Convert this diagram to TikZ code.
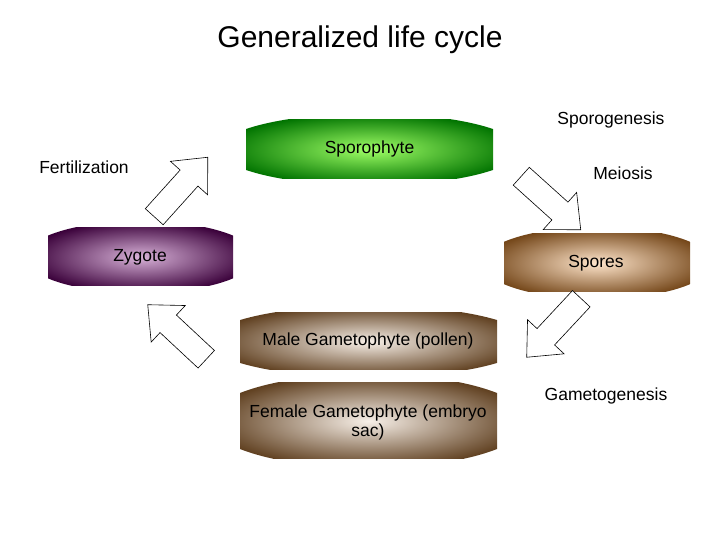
\documentclass[tikz,border=0pt]{standalone}
\usepackage{fontspec}
\setmainfont{Liberation Sans}
\begin{document}
\begin{tikzpicture}[x=1pt,y=1pt,
  lbl/.style={font=\fontsize{17.5}{19}\selectfont,align=center},
  barrow/.pic={\draw[fill=white,line width=0.6pt] (-40,-12) -- (12,-12) -- (12,-25) -- (40,0) -- (12,25) -- (12,12) -- (-40,12) -- cycle;}]
\useasboundingbox (0,0) rectangle (720,540);
\fill[white] (0,0) rectangle (720,540);
\node[font=\fontsize{30}{32}\selectfont] (title) at (360,500) {Generalized life cycle};
\begin{scope}
\clip (246,420) rectangle (493,361);
\shade[inner color=green!50!lime!60!white, outer color=green!45!black] (369.5,390.5) ellipse (150 and 36);
\end{scope}
\node[lbl] (spo) at (369.5,391) {Sporophyte};
\begin{scope}
\clip (48,312) rectangle (233,254);
\shade[inner color=violet!30!white, outer color=violet!45!black] (140.5,283) ellipse (115 and 36);
\end{scope}
\node[lbl] (zyg) at (140,283) {Zygote};
\begin{scope}
\clip (504,306) rectangle (690,248);
\shade[inner color=orange!20!white, outer color=brown!70!orange!55!black] (597,277) ellipse (115 and 36);
\end{scope}
\node[lbl] (spr) at (596,277) {Spores};
\begin{scope}
\clip (240,227) rectangle (497,170);
\shade[inner color=brown!12!white, outer color=brown!50!black] (368.5,198.5) ellipse (160 and 36);
\end{scope}
\node[lbl] (male) at (368,199) {Male Gametophyte (pollen)};
\begin{scope}
\clip (240,157) rectangle (497,81);
\shade[inner color=brown!12!white, outer color=brown!50!black] (368.5,119) ellipse (160 and 47);
\end{scope}
\node[lbl] (fem) at (368,118) {Female Gametophyte (embryo\\sac)};
\node[lbl] (l1) at (611,420) {Sporogenesis};
\node[lbl] (l2) at (84,373) {Fertilization};
\node[lbl] (l3) at (623,367) {Meiosis};
\node[lbl] (l4) at (606,144) {Gametogenesis};
\pic[rotate=48] (a1) at (181,353) {barrow};
\pic[rotate=-42] (a2) at (551,337) {barrow};
\pic[rotate=-133] (a3) at (554,212) {barrow};
\pic[rotate=137] (a4) at (177,208) {barrow};
\end{tikzpicture}
\end{document}
